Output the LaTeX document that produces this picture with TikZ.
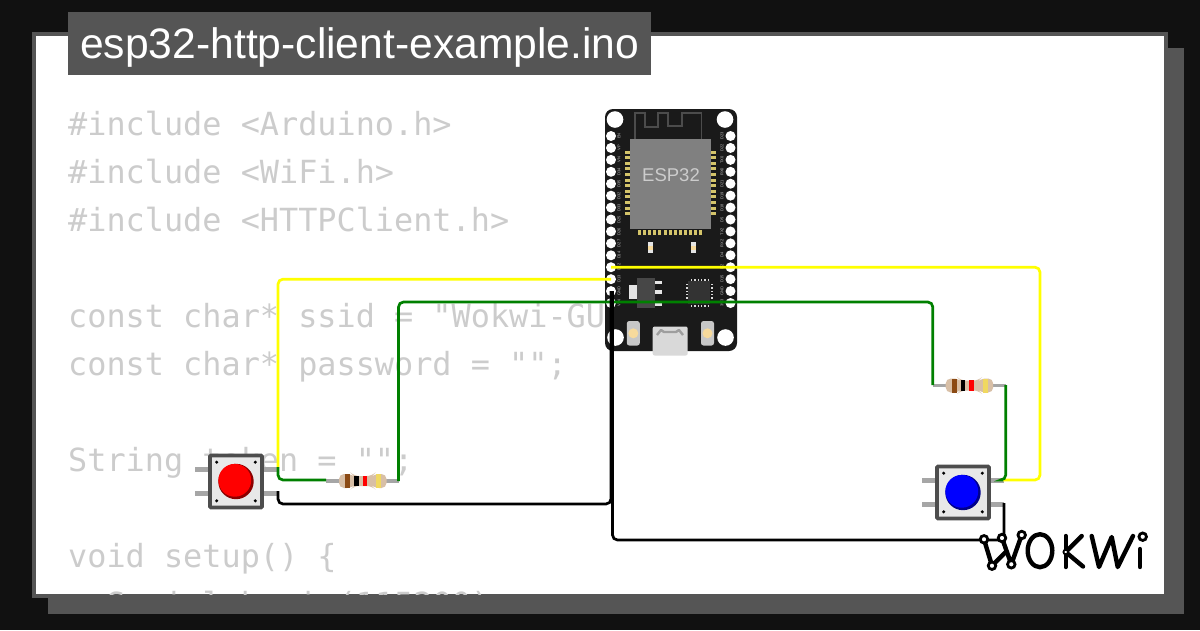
\documentclass[tikz,border=0pt]{standalone}
\usepackage{fontspec}
\setmainfont{Liberation Sans}
\newfontfamily\codefont{DejaVu Sans Mono}
\definecolor{bgdark}{HTML}{111111}
\definecolor{frameg}{HTML}{555555}
\definecolor{codeg}{HTML}{CCCCCC}
\definecolor{boardk}{HTML}{1A1A1A}
\definecolor{modg}{HTML}{808080}
\definecolor{padg}{HTML}{D4C46A}
\definecolor{wgreen}{HTML}{008000}
\definecolor{wyellow}{HTML}{FFFF00}
\definecolor{leadg}{HTML}{A6A6A6}
\definecolor{resb}{HTML}{D8BFA6}
\definecolor{resbrown}{HTML}{8B4A14}
\definecolor{resgold}{HTML}{F0D860}
\definecolor{btnbg}{HTML}{E8E8E8}
\definecolor{btnedge}{HTML}{4D4D4D}
\definecolor{ledtan}{HTML}{F7DA9C}
\tikzset{
  codeline/.style={anchor=base west,inner sep=0,text=codeg,font=\codefont\fontsize{31.85}{32}\selectfont},
  wire/.style={line width=2.7pt,rounded corners=5pt},
  pinhole/.style={circle,fill=white,inner sep=0,minimum size=10pt},
  pinlab/.style={inner sep=0,text=white!75!black,font=\fontsize{4}{4}\selectfont},
  lead/.style={line width=3.2pt,draw=leadg},
  logo/.style={line width=4.4pt,line cap=round,line join=round,draw=black},
  logodot/.style={circle,draw=black,fill=white,line width=2.8pt,inner sep=0,minimum size=7.5pt},
  pad/.style={fill=padg,draw=none},
}
\newcommand{\resistor}[2]{%
  \begin{scope}[shift={(#1,#2)}]
    \draw[lead] (-13,0) -- (60,0);
    \fill[resb,rounded corners=5pt] (0,-7) -- (0,7) -- (13,7) -- (15,5) -- (33,5) -- (35,7) -- (47.5,7) -- (47.5,-7) -- (35,-7) -- (33,-5) -- (15,-5) -- (13,-7) -- cycle;
    \fill[resbrown] (6,-7) rectangle (11,7);
    \fill[black] (15,-5.2) rectangle (19.5,5.2);
    \fill[red] (23.5,-5.2) rectangle (28,5.2);
    \fill[resgold] (37,-7) rectangle (42,7);
  \end{scope}}
\newcommand{\pushbtn}[3]{%
  \begin{scope}[shift={(#1,#2)}]
    \draw[lead,line width=4.6pt] (-41,-12) -- (-25,-12);
    \draw[lead,line width=4.6pt] (-41,12) -- (-25,12);
    \draw[lead,line width=4.6pt] (25,-12) -- (41,-12);
    \draw[lead,line width=4.6pt] (25,12) -- (41,12);
    \draw[btnedge,fill=btnbg,line width=3.6pt,rounded corners=1pt] (-26,-26) rectangle (26,26);
    \fill[black] (-19.3,-19.3) circle (1.7) (19.3,-19.3) circle (1.7) (-19.3,19.3) circle (1.7) (19.3,19.3) circle (1.7);
    \fill[#3!55!black] (0,0) circle (17.7);
    \fill[#3] (-1.2,-1.2) circle (16.4);
  \end{scope}}
\begin{document}
\begin{tikzpicture}[x=1pt,y=-1pt]
\useasboundingbox (0,0) rectangle (1200,630);
\fill[bgdark] (0,0) rectangle (1200,630);
\fill[frameg] (48,48) rectangle (1184,614);
\fill[frameg] (32,32) rectangle (1168,598);
\fill[white] (36,36) rectangle (1164,594);
% code
\begin{scope}
\clip (36,36) rectangle (1164,594);
\node[codeline] (c1) at (68,135) {\#include <Arduino.h>};
\node[codeline] (c2) at (68,183) {\#include <WiFi.h>};
\node[codeline] (c3) at (68,231) {\#include <HTTPClient.h>};
\node[codeline] (c4) at (68,327) {const char* ssid = "Wokwi-GUEST";};
\node[codeline] (c5) at (68,375) {const char* password = "";};
\node[codeline] (c6) at (68,471) {String token = "";};
\node[codeline] (c7) at (68,567) {void setup() \{};
\node[codeline] (c8) at (106.5,615) {Serial.begin(115200);};
\end{scope}
% title
\fill[frameg] (68,12) rectangle (651,75);
\node[anchor=base west,inner sep=0,text=white] (title) at (80,58) {\resizebox{559pt}{!}{\fontsize{40}{40}\selectfont esp32-http-client-example.ino}};
% board
\fill[boardk] (605,109) [rounded corners=8pt] rectangle (737,351);
\fill[white] (615,119.5) circle (8.3) (725,119.5) circle (8.3) (615.5,337.5) circle (8.3) (725.5,337.5) circle (8.3);
\draw[black!70,line width=1.3pt] (635,139) -- (635,113) -- (645,113) -- (645,127) -- (658,127) -- (658,113) -- (668,113) -- (668,126) -- (682,126) -- (682,113) -- (701.5,113) -- (701.5,139);
\fill[modg] (630,139) rectangle (711,229);
\foreach \i in {0,...,11}{
  \fill[pad] (625,{150.5+\i*5.6}) rectangle (630,{153.5+\i*5.6});
  \fill[pad] (711,{150.5+\i*5.6}) rectangle (716,{153.5+\i*5.6});
}
\foreach \i in {0,...,12}{
  \fill[pad] ({638+\i*5.1},229.5) rectangle ({641+\i*5.1},235);
}
\node[inner sep=0,text=codeg,font=\fontsize{18.5}{18}\selectfont] (esplabel) at (671,175) {ESP32};
% pins
\foreach \i/\l/\r in {0/EN/D23,1/VP/D22,2/VN/TX0,3/D34/RX0,4/D35/D21,5/D32/D19,6/D33/D18,7/D25/D5,8/D26/TX2,9/D27/RX2,10/D14/D4,11/D12/D2,12/D13/D15,13/GND/GND,14/VIN/3V3}{
  \node[pinhole] (L\i) at (611,{136+\i*11.93}) {};
  \node[pinhole] (R\i) at (730.5,{136+\i*11.93}) {};
  \node[pinlab,rotate=90] (LL\i) at (619,{136+\i*11.93}) {\l};
  \node[pinlab,rotate=90] (RL\i) at (722,{136+\i*11.93}) {\r};
}
% small parts
\fill[white!90!black] (648,242) rectangle (653,253);
\fill[white!90!black] (691,242) rectangle (696,253);
\fill[ledtan] (648,246) rectangle (653,250);
\fill[ledtan] (691,246) rectangle (696,250);
\fill[white!90!black] (629,285) rectangle (637,299);
\fill[white!90!black] (655,280.5) rectangle (662,284);
\fill[white!90!black] (655,290) rectangle (662,294);
\fill[white!90!black] (655,302) rectangle (662,306);
\fill[black!72] (637,278) rectangle (655,308);
\fill[black!80] (688,281) rectangle (710,304);
\foreach \i in {0,...,5}{
  \fill[white!85!black] ({691+\i*3.3},278.5) rectangle ({692.4+\i*3.3},280.5);
  \fill[white!85!black] ({691+\i*3.3},304.5) rectangle ({692.4+\i*3.3},306.5);
  \fill[white!85!black] (685.5,{284+\i*3.3}) rectangle (687.5,{285.4+\i*3.3});
  \fill[white!85!black] (710.5,{284+\i*3.3}) rectangle (712.5,{285.4+\i*3.3});
}
% LEDs and USB
\foreach \x in {633.3,707.5}{
  \fill[black!22] ({\x-6.5},321) [rounded corners=2.5pt] rectangle ({\x+6.5},345.5);
  \fill[ledtan] (\x,333.3) circle (5);
}
\fill[black!15,rounded corners=2pt] (652.7,326.5) rectangle (687.7,355.5);
\draw[black!38,line width=2.4pt,line join=round] (657,335) -- (661,330) -- (664,332) -- (676,332) -- (679,330) -- (683,335);
% resistors and buttons
\resistor{339}{481}
\resistor{945.7}{385.5}
\pushbtn{236}{481.5}{red}
\pushbtn{963}{492.5}{blue}
% connection points
\coordinate (btnAa) at (278,467);
\coordinate (btnAb) at (278,491);
\coordinate (resAl) at (326,480);
\coordinate (resAr) at (398.5,481);
\coordinate (resBl) at (932.8,385);
\coordinate (resBr) at (1005.7,385);
\coordinate (btnBa) at (1003,480);
\coordinate (btnBb) at (1004,503);
\coordinate (gndB) at (612.5,291);
\coordinate (yelR) at (1040,480);
% wires
\draw[wire,wyellow] (btnAa) -- (btnAa |- L12.center) -- (L12.center);
\draw[wire,wyellow] (btnBa) -- (yelR) -- (yelR |- L11.center) -- (L11.center);
\draw[wire,wgreen] (btnAa) -- (278,480) -- (resAl);
\draw[wire,wgreen] (resAr) -- (398.5,302) -- (932.8,302) -- (resBl);
\draw[wire,wgreen] (resBr) -- (1005.7,480) -- (btnBa);
\draw[wire,black] (btnAb) -- (278,504) -- (611,504) -- (L13.center);
\draw[wire,black] (btnBb) -- (1004,540) -- (612.5,540) -- (gndB);
% logo
\begin{scope}
\draw[logo] (984,539.3) -- (992,565.7) -- (1006,551.7);
\draw[logo] (1002,538) -- (1011.3,564.3) -- (1021.7,535);
\draw[logo] (1040,550.7) ellipse (12.3 and 16.5);
\draw[logo] (1065.7,536) -- (1065.7,567);
\draw[logo] (1065.7,552) -- (1081.7,536);
\draw[logo] (1065.7,552) -- (1083,566.5);
\draw[logo] (1091.7,536) -- (1099,567) -- (1111.7,537) -- (1117.7,567) -- (1133,536);
\draw[logo] (1140,549) -- (1140,567);
\node[logodot] (d1) at (984,539.3) {};
\node[logodot] (d2) at (1002,538) {};
\node[logodot] (d3) at (1021.7,535) {};
\node[logodot] (d4) at (992,565.7) {};
\node[logodot] (d5) at (1011.3,564.3) {};
\node[logodot,minimum size=4.5pt,line width=1.8pt] (d6) at (1065.7,552) {};
\node[logodot] (d7) at (1142.7,536.7) {};
\end{scope}
\end{tikzpicture}
\end{document}
